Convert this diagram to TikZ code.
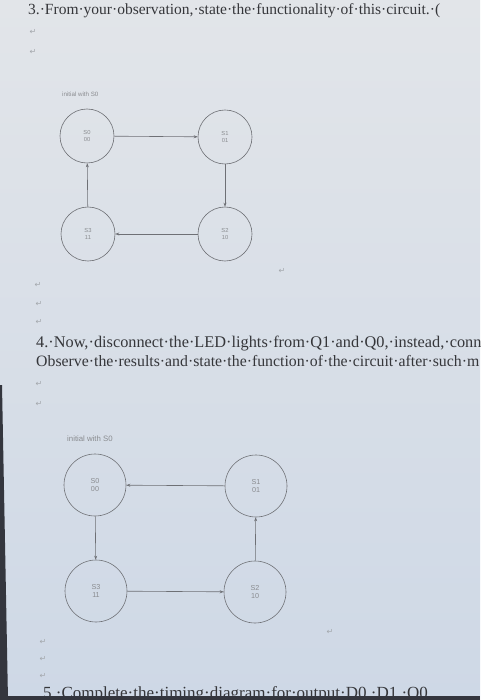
\documentclass[tikz,border=0pt]{standalone}
\usepackage{fontspec}
\setmainfont{Liberation Serif}
\newfontfamily\lsans{Liberation Sans}
\newfontfamily\dvsans{DejaVu Sans}
\usetikzlibrary{arrows.meta}
\definecolor{pagetop}{HTML}{E2E5E9}
\definecolor{pagebot}{HTML}{CED8E6}
\definecolor{darkedge}{HTML}{34363E}
\definecolor{inktext}{HTML}{35363A}
\definecolor{linegray}{HTML}{6E7075}
\definecolor{labgray}{HTML}{8A8C90}
\definecolor{markgray}{HTML}{A3A7AC}
\begin{document}
\begin{tikzpicture}[x=1pt,y=-1pt,
  stateA/.style={circle, draw=linegray, line width=0.6pt, minimum size=54pt, inner sep=0pt,
    align=center, text=labgray, font=\lsans\fontsize{5.8}{7}\selectfont},
  stateB/.style={stateA, minimum size=62pt, font=\lsans\fontsize{7.2}{8.5}\selectfont},
  trans/.style={draw=linegray, line width=0.6pt, -{Stealth[length=4pt,width=3pt]}},
  pagetext/.style={anchor=base west, inner sep=0pt, text=inktext},
  retmark/.style={inner sep=0pt, text=markgray, font=\dvsans\fontsize{8}{8}\selectfont},
  caption/.style={anchor=west, inner sep=0pt, text=labgray}]
\useasboundingbox (0,0) rectangle (480,700);
\clip (0,0) rectangle (480,700);
\shade[top color=pagetop, bottom color=pagebot] (0,0) rectangle (480,700);
\fill[darkedge] (0,385) -- (2,385) -- (8,700) -- (0,700) -- cycle;

% page text
\node[pagetext, font=\fontsize{15.5}{18}\selectfont] (q3) at (28,15)
  {3.·From·your·observation,·state·the·functionality·of·this·circuit.·(};
\node[pagetext, font=\fontsize{16.3}{19}\selectfont] (q4a) at (36,347)
  {4.·Now,·disconnect·the·LED·lights·from·Q1·and·Q0,·instead,·conne};
\node[pagetext, font=\fontsize{15.8}{19}\selectfont] (q4b) at (36,366)
  {Observe·the·results·and·state·the·function·of·the·circuit·after·such·m};
\node[pagetext, font=\fontsize{17}{19}\selectfont] (q5) at (43,698)
  {5.·Complete·the·timing·diagram·for·output·D0,·D1,·Q0};
\fill[darkedge] (0,696) rectangle (480,700);

% paragraph marks
\foreach \px/\py [count=\i] in {33/32, 33/52, 282/271, 38/285, 39/304, 39/322, 39/384, 39/404, 43/642, 43/659, 43/676, 330/632}
  \node[retmark] (ret\i) at (\px,\py) {↵};

% diagram 1
\node[caption, font=\lsans\fontsize{6.2}{7}\selectfont] (cap1) at (62,94) {initial with S0};
\node[stateA] (a0) at (87,136) {S0\\00};
\node[stateA] (a1) at (225,137) {S1\\01};
\node[stateA] (a2) at (225,234) {S2\\10};
\node[stateA] (a3) at (88,234) {S3\\11};
\draw[trans] (a0) -- (a1);
\draw[trans] (a1) -- (a2);
\draw[trans] (a2) -- (a3);
\draw[trans] (a3) -- (a0);

% diagram 2
\node[caption, font=\lsans\fontsize{7.8}{8}\selectfont] (cap2) at (67,439) {initial with S0};
\node[stateB] (b0) at (95,485) {S0\\00};
\node[stateB] (b1) at (256,486) {S1\\01};
\node[stateB] (b2) at (255,592) {S2\\10};
\node[stateB] (b3) at (96,591) {S3\\11};
\draw[trans] (b1) -- (b0);
\draw[trans] (b0) -- (b3);
\draw[trans] (b3) -- (b2);
\draw[trans] (b2) -- (b1);
\end{tikzpicture}
\end{document}
